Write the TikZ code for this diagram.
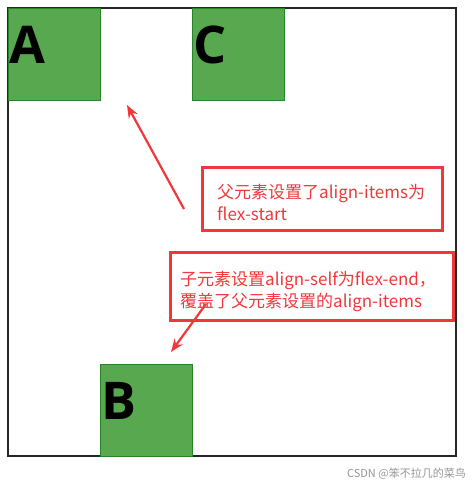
\documentclass[tikz,border=0pt]{standalone}
\usepackage{fontspec}
\newfontfamily\cjk{Noto Sans CJK SC}
\newfontfamily\letterfont{Open Sans}
\usetikzlibrary{arrows.meta}
\definecolor{boxgreen}{RGB}{88,168,80}
\definecolor{edgegreen}{RGB}{40,130,40}
\definecolor{notered}{RGB}{240,56,60}
\definecolor{wmgray}{RGB}{150,150,150}
\tikzset{
  item/.style={fill=boxgreen,draw=edgegreen,line width=1pt},
  letter/.style={anchor=base west,inner sep=0pt,font=\letterfont\bfseries\fontsize{52}{52}\selectfont,text=black},
  notebox/.style={draw=notered,line width=3pt},
  notetext/.style={anchor=base west,inner sep=0pt,text=notered,font=\cjk\fontsize{17}{22}\selectfont},
  pointer/.style={draw=notered,line width=2.2pt,-{Stealth[length=13pt,width=10pt]}}
}
\begin{document}
\begin{tikzpicture}[x=1pt,y=-1pt]
\path[use as bounding box,fill=white] (0,0) rectangle (474,483);
% container
\draw[line width=1.2pt,black!85] (8,8) rectangle (456,456);
% items
\draw[item] (8,8) rectangle (100,100);
\draw[item] (192,8) rectangle (284,100);
\draw[item] (100,364) rectangle (192,456);
\node[letter] (A) at (9,63) {A};
\node[letter] (C) at (193,63) {C};
\node[letter] (B) at (101,419) {B};
% note 1
\draw[notebox] (202,167) rectangle (442,230);
\node[notetext] (n1a) at (217,198) {父元素设置了align-items为};
\node[notetext] (n1b) at (217,220) {flex-start};
% note 2
\draw[notebox] (170,252) rectangle (453,320);
\node[notetext] (n2a) at (180,285) {子元素设置align-self为flex-end，};
\node[notetext] (n2b) at (180,307) {覆盖了父元素设置的align-items};
% arrows
\coordinate (p1s) at (184,209);
\coordinate (p1e) at (127,105);
\coordinate (p2s) at (206,304);
\coordinate (p2e) at (171,352);
\draw[pointer] (p1s) -- (p1e);
\draw[pointer] (p2s) -- (p2e);
% watermark
\node[anchor=base east,inner sep=0pt,text=wmgray,font=\cjk\fontsize{11}{12}\selectfont] (wm) at (466,477) {CSDN @笨不拉几的菜鸟};
\end{tikzpicture}
\end{document}
